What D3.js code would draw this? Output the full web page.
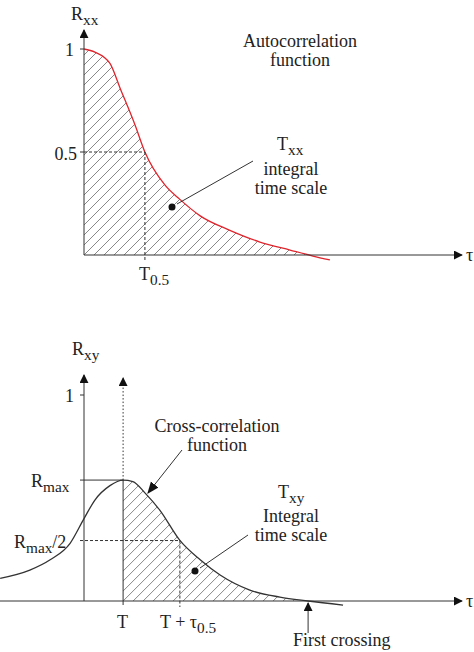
<!DOCTYPE html>
<html><head><meta charset="utf-8">
<script src="https://cdn.jsdelivr.net/npm/d3@7"></script>
<style>body{margin:0;background:#fff}svg{display:block}</style>
</head><body><svg id="c" width="474" height="652"></svg>
<script>
// Autocorrelation curve (tau in arbitrary units, R_xx)
const autoTau = [0,2.9,6.9,9.6,13.6,16.2,21.5,25.5,30.9,38.8,46.8,54.8,60.9,65.4];
const autoR   = [1,0.985,0.93,0.81,0.63,0.5,0.34,0.27,0.19,0.12,0.063,0.024,-0.005,-0.024];
// Cross-correlation curve
const crossTau = [-22.3,-14.4,-9.0,-3.7,0,2.9,6.9,10.4,13.0,16.2,20.2,25.5,30.9,36.2,44.1,52.1,59.6,68.9];
const crossR   = [0.11,0.15,0.20,0.28,0.40,0.49,0.56,0.587,0.58,0.525,0.44,0.294,0.20,0.126,0.053,0.019,0,-0.02];
const T0_5 = 16.2, Tlag = 10.4, Thalf = 25.5, firstCross = 59.6, Rmax = 0.587;
const FONT = "'Liberation Serif','DejaVu Serif',serif";

const svg = d3.select("#c");
const x = d3.scaleLinear().domain([0,100]).range([84,460]);
const yA = d3.scaleLinear().domain([0,1]).range([255,49]);
const yB = d3.scaleLinear().domain([0,1]).range([601,395]);
const defs = svg.append("defs");
defs.append("marker").attr("id","ah").attr("viewBox","0 0 10 10").attr("refX",9).attr("refY",5)
  .attr("markerWidth",9).attr("markerHeight",9).attr("markerUnits","userSpaceOnUse").attr("orient","auto")
  .append("path").attr("d","M0,0L10,5L0,10Z").attr("fill","#111");
defs.append("marker").attr("id","ah2").attr("viewBox","0 0 10 10").attr("refX",9).attr("refY",5)
  .attr("markerWidth",12).attr("markerHeight",12).attr("markerUnits","userSpaceOnUse").attr("orient","auto")
  .append("path").attr("d","M0,1L10,5L0,9Z").attr("fill","#111");

function line(x1,y1,x2,y2,o={}){return svg.append("line").attr("x1",x1).attr("y1",y1).attr("x2",x2).attr("y2",y2)
  .attr("stroke",o.c||"#333").attr("stroke-width",o.w||1).attr("stroke-dasharray",o.d||null).attr("marker-end",o.m?`url(#${o.m})`:null);}
function txt(x0,y0,main,sub,o={}){const fs=o.fs||18;const t=svg.append("text").attr("x",x0).attr("y",y0).attr("font-size",fs)
  .attr("font-family",FONT).attr("fill","#222").attr("text-anchor",o.a||"start");
  t.append("tspan").text(main); if(sub){t.append("tspan").attr("dy",5).attr("font-size",fs*0.85).text(sub); if(o.after) t.append("tspan").attr("dy",-5).text(o.after);} return t;}

function panel(tau,R,y,startTau,id,stroke){
  const pts = tau.map((t,i)=>[t,R[i]]);
  const hatchPts = pts.filter(p=>p[0]>=startTau);
  const area = d3.area().x(d=>x(d[0])).y0(y(0)).y1(d=>y(Math.max(d[1],0))).curve(d3.curveMonotoneX);
  defs.append("clipPath").attr("id",id).append("path").attr("d",area(hatchPts));
  const g = svg.append("g").attr("clip-path",`url(#${id})`);
  g.selectAll("line").data(d3.range(-300,400,10)).join("line")
    .attr("x1",d=>x(startTau)+d).attr("y1",y(0)).attr("x2",d=>x(startTau)+d+300).attr("y2",y(0)-300)
    .attr("stroke","#555").attr("stroke-width",0.7);
  svg.append("path").attr("d",d3.line().x(d=>x(d[0])).y(d=>y(d[1])).curve(d3.curveMonotoneX)(pts))
    .attr("fill","none").attr("stroke",stroke).attr("stroke-width",1.3);
}

// Top panel
panel(autoTau,autoR,yA,0,"ca","#e0242c");
line(x(0),yA(0),x(0),30,{m:"ah"});
line(x(0),yA(0),462,yA(0),{m:"ah"});
line(80,yA(1),x(0),yA(1)); line(80,yA(0.5),x(0),yA(0.5));
line(x(0),yA(0.5),x(T0_5),yA(0.5),{d:"3,2"});
line(x(T0_5),yA(0.5),x(T0_5),yA(0)+6,{d:"3,2"});
txt(71,20,"R","xx");
txt(74,56,"1",null,{a:"end"});
txt(77,160,"0.5",null,{a:"end"});
txt(139,280,"T","0.5");
txt(466,261,"τ");
txt(300,47,"Autocorrelation",null,{a:"middle"});
txt(300,66,"function",null,{a:"middle"});
txt(277,150,"T","xx");
txt(291,175,"integral",null,{a:"middle"});
txt(291,194,"time scale",null,{a:"middle"});
line(253,161,177,204);
svg.append("circle").attr("cx",172).attr("cy",207).attr("r",3.5).attr("fill","#111");

// Bottom panel
panel(crossTau,crossR,yB,Tlag,"cb","#333");
line(x(0),yB(0),x(0),375,{m:"ah"});
line(0,yB(0),462,yB(0),{m:"ah"});
line(80,yB(1),x(0),yB(1));
line(80,yB(Rmax),x(Tlag),yB(Rmax));
line(x(Tlag),yB(0)+4,x(Tlag),yB(Rmax));
line(x(Tlag),yB(Rmax),x(Tlag),378,{d:"1.5,2",m:"ah"});
line(80,yB(Rmax/2),x(Thalf),yB(Rmax/2),{d:"3,2"});
line(x(Thalf),yB(Rmax/2),x(Thalf),yB(0)+6,{d:"3,2"});
txt(72,355,"R","xy");
txt(74,402,"1",null,{a:"end"});
txt(31,487,"R","max");
txt(14,548,"R","max",{after:"/2"});
txt(117,628,"T");
txt(160,628,"T + τ","0.5");
txt(466,607,"τ");
line(x(firstCross),633,x(firstCross),603,{m:"ah"});
txt(293,646,"First crossing");
txt(217,432,"Cross-correlation",null,{a:"middle"});
txt(217,451,"function",null,{a:"middle"});
line(182,450,148,493,{m:"ah2"});
txt(278,498,"T","xy");
txt(291,522,"Integral",null,{a:"middle"});
txt(291,541,"time scale",null,{a:"middle"});
line(248,535,200,568);
svg.append("circle").attr("cx",195).attr("cy",571).attr("r",3.5).attr("fill","#111");
</script></body></html>
